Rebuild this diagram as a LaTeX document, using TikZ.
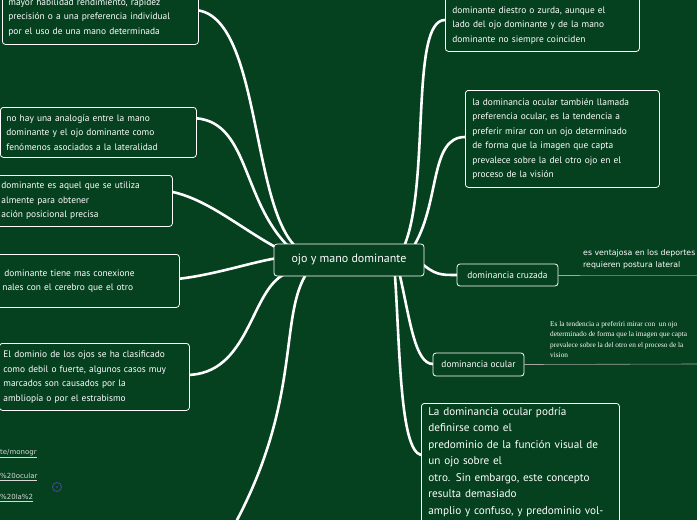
\documentclass[tikz,border=0pt]{standalone}
\usepackage{fontspec}
\setmainfont{PT Sans}
\newfontfamily\serifx{Liberation Serif}
\newfontfamily\linkf{DejaVu Sans}
\definecolor{bg}{HTML}{05401F}
\begin{document}
\begin{tikzpicture}[x=1pt,y=-1pt,
  box/.style={draw=white,line width=0.8pt,rounded corners=3pt,fill=bg,text=white,align=left,font=\fontsize{9.4}{14.5}\selectfont,inner sep=0pt},
  con/.style={white,line width=2.6pt,line cap=round},
  thin/.style={gray!70,line width=0.6pt}]
\fill[bg] (0,0) rectangle (697,520);
\useasboundingbox (0,0) rectangle (697,520);
% connectors
\draw[con] (295,246) .. controls (250,200) and (260,10) .. (193,10);
\draw[con] (290,248) .. controls (240,200) and (250,118) .. (191,118);
\draw[con] (285,252) .. controls (240,230) and (200,190) .. (155,190);
\draw[con] (278,258) .. controls (250,262) and (200,280) .. (159,280);
\draw[con] (285,274) .. controls (250,290) and (250,375) .. (186,375);
\draw[con] (305,276) .. controls (280,320) and (300,400) .. (237,520);
\draw[con] (405,244) .. controls (430,180) and (410,20) .. (445,20);
\draw[con] (415,244) .. controls (440,200) and (430,137) .. (465,137);
\draw[con] (420,262) .. controls (435,275) and (440,275) .. (457,275);
\draw[con] (400,276) .. controls (410,320) and (415,364) .. (433,364);
\draw[con] (395,276) .. controls (400,350) and (400,450) .. (421,455);
% center
\node[box,minimum width=150pt,minimum height=32pt,align=center,font=\fontsize{12}{12}\selectfont] (ctr) at (349,260) {ojo y mano dominante};
% left boxes
\node[box,anchor=north west,minimum width=190pt,minimum height=54pt,text width=184pt,inner xsep=6pt,inner ysep=2pt] (b1) at (2,-10) {mayor habilidad rendimiento, rapidez\\precisión o a una preferencia individual\\por el uso de una mano determinada};
\node[box,anchor=north west,minimum width=191pt,minimum height=50pt,text width=184pt,inner xsep=6pt,inner ysep=4pt] (b2) at (0,107) {no hay una analogía entre la mano\\dominante y el ojo dominante como\\fenómenos asociados a la lateralidad};
\node[box,anchor=north west,minimum width=175pt,minimum height=51pt,text width=150pt,inner xsep=21pt,inner ysep=4pt] (b3) at (-20,175) {dominante es aquel que se utiliza\\almente para obtener\\ación posicional precisa};
\node[box,anchor=north west,minimum width=179pt,minimum height=53pt,text width=155pt,inner xsep=22pt,inner ysep=4pt] (b4) at (-20,254) {\hspace*{2pt}dominante tiene mas conexione\\nales con el cerebro que el otro\\ };
\node[box,anchor=north west,minimum width=187pt,minimum height=67pt,text width=182pt,inner xsep=4pt,inner ysep=4pt] (b5) at (-1,343) {El dominio de los ojos se ha clasificado\\como debil o fuerte, algunos casos muy\\marcados son causados por la\\ambliopía o por el estrabismo};
% links
\begin{scope}[every node/.style={text=gray!30,font=\linkf\fontsize{7}{8}\selectfont,anchor=west,inner sep=0pt}]
\node (l1) at (0,454) {\underline{te/monogr}};
\node (l2) at (0,477) {\underline{\%20ocular}};
\node (l3) at (0,498) {\underline{\%20la\%2}};
\end{scope}
\draw[blue!40!gray,line width=0.7pt] (57,487) circle (4.5pt);
\fill[blue!40!gray] (57,487) circle (0.8pt);
% right boxes
\node[box,anchor=north west,minimum width=191pt,minimum height=60pt,text width=180pt,inner xsep=7pt,inner ysep=4pt] (r1) at (445,-9) {\\dominante diestro o zurda, aunque el\\lado del ojo dominante y de la mano\\dominante no siempre coinciden};
\node[box,anchor=north west,minimum width=191pt,minimum height=97pt,text width=180pt,inner xsep=7pt,inner ysep=4pt] (r2) at (465,90) {la dominancia ocular también llamada\\preferencia ocular, es la tendencia a\\preferir mirar con un ojo determinado\\de forma que la imagen que capta\\prevalece sobre la del otro ojo en el\\proceso de la visión};
\node[box,minimum width=101pt,minimum height=22pt,align=center] (cz) at (507.5,275) {dominancia cruzada};
\node[box,minimum width=91pt,minimum height=23pt,align=center] (oc) at (478.5,364.5) {dominancia ocular};
\node[box,anchor=north west,minimum width=191pt,minimum height=130pt,text width=184pt,inner xsep=7pt,inner ysep=4pt,font=\fontsize{11.2}{16.5}\selectfont] (big) at (421,403) {La dominancia ocular podría\\definirse como el\\predominio de la función visual de\\un ojo sobre el\\otro. Sin embargo, este concepto\\resulta demasiado\\amplio y confuso, y predominio voluntario o};
% right texts
\draw[thin] (cz.east) -- (697,275);
\draw[violet!70,line width=0.7pt] (580,275) -- (697,275);
\node[anchor=north west,text=white,font=\linkf\fontsize{7.8}{12.5}\selectfont,align=left,inner sep=0pt] (t1) at (583,249) {es ventajosa en los deportes que\\requieren postura lateral};
\draw[thin] (oc.east) -- (697,364);
\node[anchor=north west,text=white,font=\serifx\fontsize{7.3}{10.5}\selectfont,align=left,inner sep=0pt] (t2) at (550,321) {Es la tendencia a preferiri mirar con\ \ un ojo\\determinado de forma que la imagen que capta\\prevalece sobre la del otro en el proceso de la\\vision};
\end{tikzpicture}
\end{document}
